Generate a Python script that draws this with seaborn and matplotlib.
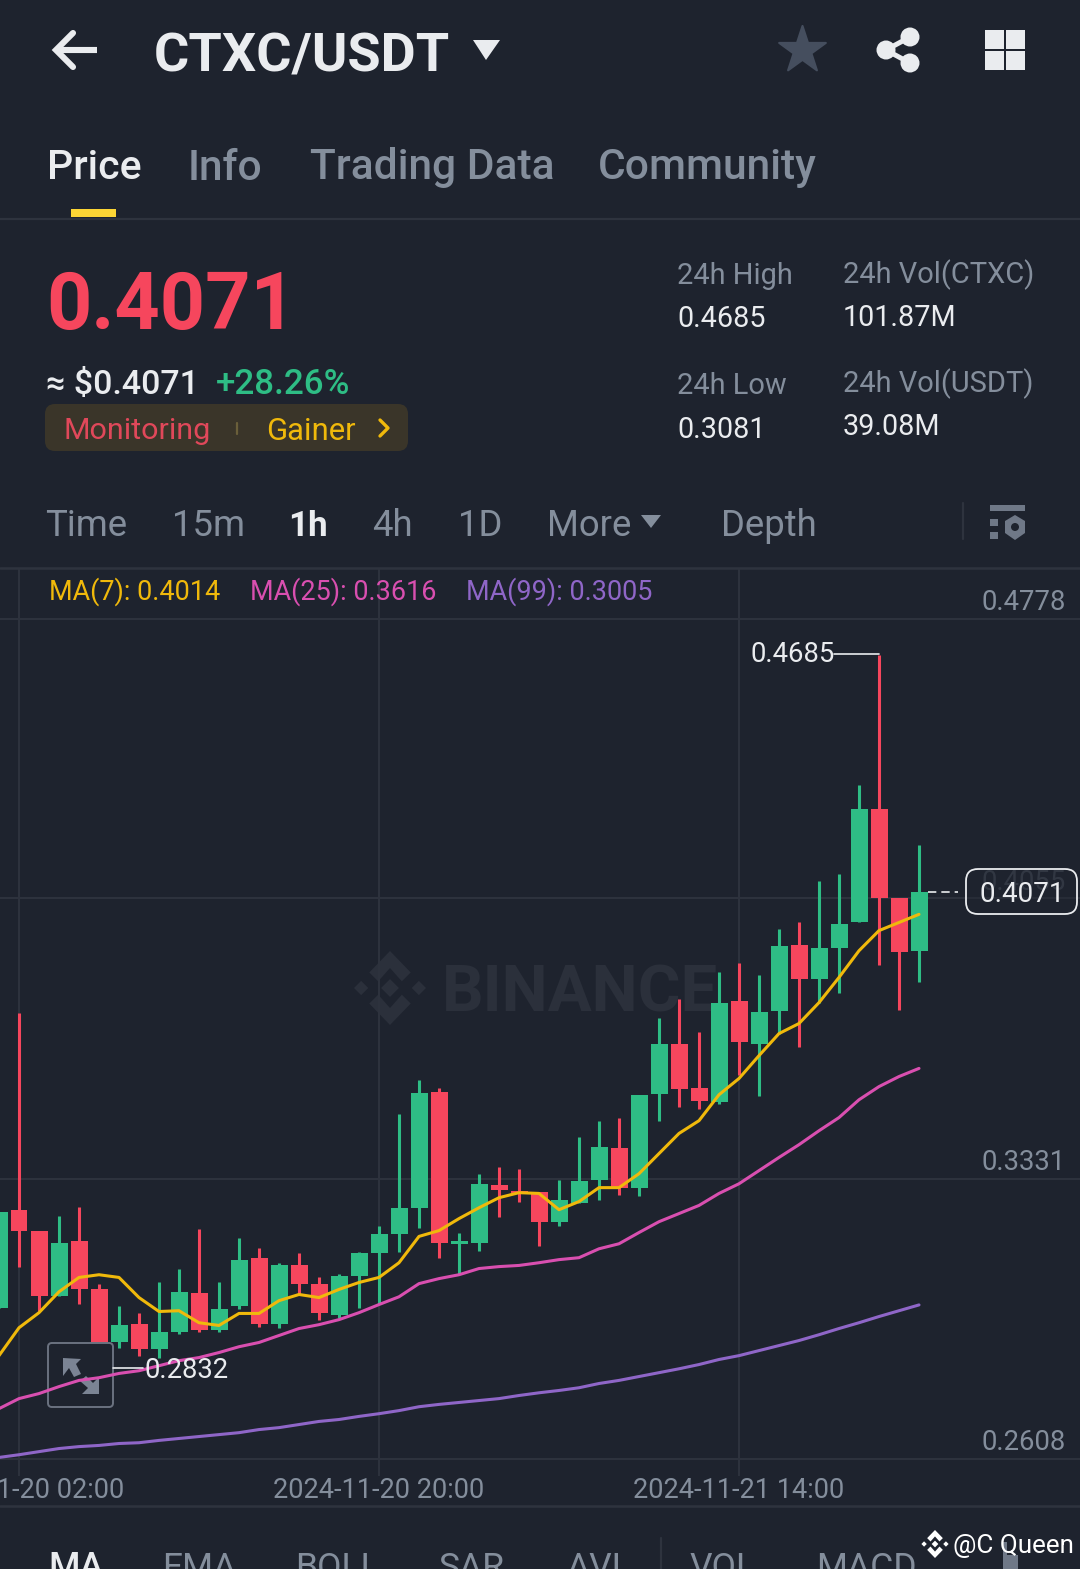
import matplotlib
matplotlib.use('Agg')
import matplotlib.pyplot as plt
import numpy as np
import pandas as pd
import seaborn as sns
from matplotlib.patches import FancyBboxPatch, Polygon, Rectangle, Circle

# candles (one per hour, left to right)
opens = [0.2998, 0.3249, 0.3195, 0.3029, 0.3169, 0.3045, 0.2908, 0.2957, 0.2890, 0.2934, 0.3037, 0.2941,
         0.3001, 0.3125, 0.2957, 0.3109, 0.3060, 0.2980, 0.3081, 0.3138, 0.3189, 0.3256, 0.3556, 0.3163,
         0.3166, 0.3316, 0.3300, 0.3298, 0.3218, 0.3269, 0.3329, 0.3411, 0.3308, 0.3551, 0.3680, 0.3566,
         0.3530, 0.3791, 0.3680, 0.3765, 0.3936, 0.3848, 0.3928, 0.3993, 0.4287, 0.4055, 0.3920]
closes = [0.3244, 0.3195, 0.3029, 0.3166, 0.3045, 0.2900, 0.2952, 0.2890, 0.2934, 0.3039, 0.2941, 0.2995,
          0.3122, 0.2957, 0.3109, 0.3060, 0.2983, 0.3081, 0.3138, 0.3187, 0.3256, 0.3553, 0.3166, 0.3171,
          0.3318, 0.3303, 0.3295, 0.3220, 0.3275, 0.3326, 0.3414, 0.3308, 0.3548, 0.3678, 0.3564, 0.3533,
          0.3786, 0.3685, 0.3763, 0.3931, 0.3848, 0.3926, 0.3990, 0.4285, 0.4055, 0.3918, 0.4071]
highs = [0.3244, 0.3758, 0.3197, 0.3236, 0.3259, 0.3060, 0.3001, 0.2985, 0.3063, 0.3099, 0.3200, 0.3065,
         0.3179, 0.3153, 0.3114, 0.3138, 0.3078, 0.3086, 0.3143, 0.3210, 0.3499, 0.3585, 0.3566, 0.3192,
         0.3342, 0.3362, 0.3357, 0.3298, 0.3329, 0.3440, 0.3481, 0.3489, 0.3548, 0.3747, 0.3796, 0.3711,
         0.3864, 0.3889, 0.3858, 0.3977, 0.3993, 0.4099, 0.4119, 0.4347, 0.4685, 0.4055, 0.4192]
lows = [0.2998, 0.3102, 0.2990, 0.3029, 0.3008, 0.2832, 0.2895, 0.2872, 0.2869, 0.2931, 0.2934, 0.2936,
        0.2995, 0.2949, 0.2946, 0.3034, 0.2967, 0.2972, 0.2998, 0.3008, 0.3143, 0.3205, 0.3125, 0.3086,
        0.3145, 0.3233, 0.3272, 0.3158, 0.3210, 0.3269, 0.3277, 0.3290, 0.3287, 0.3479, 0.3517, 0.3512,
        0.3525, 0.3600, 0.3546, 0.3706, 0.3672, 0.3786, 0.3812, 0.3993, 0.3882, 0.3768, 0.3838]

# moving averages
ma7 = [0.2874, 0.2946, 0.2985, 0.3039, 0.3076, 0.3083, 0.3076, 0.3024, 0.2988, 0.2990, 0.2959, 0.2952,
       0.2983, 0.2983, 0.3016, 0.3032, 0.3024, 0.3045, 0.3063, 0.3076, 0.3114, 0.3182, 0.3197, 0.3228,
       0.3256, 0.3282, 0.3295, 0.3293, 0.3251, 0.3272, 0.3308, 0.3308, 0.3344, 0.3396, 0.3448, 0.3481,
       0.3548, 0.3590, 0.3649, 0.3706, 0.3732, 0.3786, 0.3851, 0.3920, 0.3972, 0.3993, 0.4014]
ma25 = [0.2737, 0.2763, 0.2776, 0.2794, 0.2810, 0.2817, 0.2828, 0.2835, 0.2848, 0.2861, 0.2869, 0.2882,
        0.2897, 0.2908, 0.2926, 0.2944, 0.2954, 0.2967, 0.2985, 0.3006, 0.3026, 0.3060, 0.3073, 0.3083,
        0.3099, 0.3104, 0.3107, 0.3114, 0.3122, 0.3127, 0.3150, 0.3163, 0.3192, 0.3220, 0.3241, 0.3262,
        0.3293, 0.3318, 0.3352, 0.3386, 0.3419, 0.3455, 0.3489, 0.3535, 0.3569, 0.3595, 0.3616]
ma99 = [0.2611, 0.2618, 0.2626, 0.2634, 0.2639, 0.2642, 0.2647, 0.2649, 0.2655, 0.2660, 0.2665, 0.2670,
        0.2675, 0.2683, 0.2688, 0.2696, 0.2704, 0.2709, 0.2717, 0.2724, 0.2732, 0.2742, 0.2748, 0.2753,
        0.2758, 0.2763, 0.2771, 0.2778, 0.2784, 0.2791, 0.2802, 0.2810, 0.2820, 0.2830, 0.2840, 0.2851,
        0.2864, 0.2874, 0.2887, 0.2900, 0.2913, 0.2928, 0.2944, 0.2959, 0.2975, 0.2990, 0.3005]

y_ticks = [0.4778, 0.4055, 0.3331, 0.2608]
x_tick_pos = [1, 19, 37]
x_tick_labels = ['2024-11-20 02:00', '2024-11-20 20:00', '2024-11-21 14:00']

BG = '#1e232e'
GRID = '#2e333e'
GREY = '#848e9c'
WHITE = '#eaecef'
GREEN = '#2ebd85'
RED = '#f6465d'
YELLOW = '#f0b90b'
PINK = '#d94fb0'
PURPLE = '#8f66c8'

sns.set_theme(style='dark')
plt.rcParams['font.family'] = ['Roboto', 'DejaVu Sans']

fig = plt.figure(figsize=(10.8, 15.69), dpi=100, facecolor=BG)

# overlay in screen pixels for all the app chrome
ui = fig.add_axes([0, 0, 1, 1], zorder=2)
ui.set_xlim(0, 1080)
ui.set_ylim(1569, 0)
ui.axis('off')
ui.patch.set_alpha(0)

# price axes, pixel rows 568-1476
ax = fig.add_axes([0, (1569 - 1476) / 1569, 1, (1476 - 568) / 1569], zorder=1, facecolor=BG)
price_per_px = (y_ticks[0] - y_ticks[-1]) / (1458 - 618)
ax.set_xlim(0.05, 54.05)
ax.set_ylim(y_ticks[0] - (1476 - 618.6) * price_per_px, y_ticks[0] + 50.6 * price_per_px)
for s in ax.spines.values():
    s.set_visible(False)

ax.hlines(y_ticks, 0.05, 54.05, color=GRID, lw=1.4, zorder=1)
ax.vlines(x_tick_pos, *ax.get_ylim(), color=GRID, lw=1.4, zorder=1)
ax.set_yticks([])
ax.set_xticks(x_tick_pos, x_tick_labels)
ax.tick_params(axis='x', length=0, pad=1, labelsize=19.5, labelcolor=GREY)


def text(x, y, s, color=WHITE, px=30, **kw):
    kw.setdefault('va', 'center')
    return ui.text(x, y, s, color=color, fontsize=px * 0.72, **kw)


def binance_logo(a, cx, cy, r, color, zorder):
    # center diamond, two side diamonds, top and bottom chevrons
    d = r * 0.24
    for ox, oy, k in [(0, 0, 1.0), (-r * 0.78, 0, 0.8), (r * 0.78, 0, 0.8)]:
        a.add_patch(Polygon([(cx + ox - d * k, cy), (cx + ox, cy - d * k), (cx + ox + d * k, cy), (cx + ox, cy + d * k)],
                            color=color, zorder=zorder, transform=ui.transData, lw=0))
    w = r * 0.24
    for sgn in (-1, 1):
        a.add_patch(Polygon([(cx - r * 0.56, cy + sgn * r * 0.42), (cx, cy + sgn * r), (cx + r * 0.56, cy + sgn * r * 0.42),
                             (cx + r * 0.56 - w, cy + sgn * r * 0.42 - sgn * w), (cx, cy + sgn * r * 0.54),
                             (cx - r * 0.56 + w, cy + sgn * r * 0.42 - sgn * w)],
                            color=color, zorder=zorder, transform=ui.transData, lw=0))


# watermark behind the candles
binance_logo(ax, 390, 988, 37, '#2b303b', 0.5)
ax.text(442, 994, 'BINANCE', transform=ui.transData, color='#2b303b', fontsize=47, fontweight='bold',
        va='center', zorder=0.5)

# candles
df = pd.DataFrame({'open': opens, 'close': closes, 'high': highs, 'low': lows})
df['idx'] = np.arange(len(df))
df['color'] = np.where(df['close'] >= df['open'], GREEN, RED)
ax.vlines(df['idx'], df['low'], df['high'], colors=df['color'], lw=2.2, zorder=2)
ax.bar(df['idx'], (df['close'] - df['open']).abs(), bottom=df[['open', 'close']].min(axis=1),
       width=0.85, color=df['color'], linewidth=0, zorder=2)

# expand button sits over the candles but under the MA lines
ax.add_patch(FancyBboxPatch((48, 1343), 65, 64, boxstyle='round,pad=0,rounding_size=4', fc=BG, ec='#6b7280', lw=1.4,
                            transform=ui.transData, zorder=2.5))
ax.add_patch(Polygon([(63, 1358), (81, 1359), (76, 1364), (81, 1374), (74, 1377), (69, 1368), (63, 1376)],
                     color='#7b8494', lw=0, transform=ui.transData, zorder=2.6))
ax.add_patch(Polygon([(99, 1394), (82, 1394), (88, 1388), (80, 1381), (86, 1376), (93, 1383), (99, 1377)],
                     color='#7b8494', lw=0, transform=ui.transData, zorder=2.6))

# moving average lines
for values, colour in [(ma99, PURPLE), (ma25, PINK), (ma7, YELLOW)]:
    sns.lineplot(x=df['idx'], y=values, ax=ax, color=colour, linewidth=2.2, legend=False, zorder=3)
ax.set_xlabel('')
ax.set_ylabel('')

# axis price labels sit just above their grid lines
for v in y_ticks:
    c = '#3c424e' if v == 0.4055 else GREY
    ax.annotate(f'{v:.4f}', xy=(1, v), xycoords=ax.get_yaxis_transform(), xytext=(-10.2, 11.5),
                textcoords='offset points', ha='right', va='center', color=c, fontsize=19.8, zorder=1.5)

# header
ui.plot([97, 56], [50, 50], color=WHITE, lw=4.4, solid_capstyle='butt')
ui.plot([73, 56, 73], [33, 50, 67], color=WHITE, lw=4.4, solid_joinstyle='miter')
text(154, 57, 'CTXC/USDT', px=54, fontweight='bold')
ui.add_patch(Polygon([(473, 40), (500, 40), (486, 60)], color=WHITE, lw=0))
ui.scatter([802], [50], marker='*', s=1250, color='#454e5e', linewidths=1.5, edgecolors='#454e5e')
ui.plot([910, 886, 910], [37, 50, 63], color=WHITE, lw=3.6)
for cx, cy in [(910, 37), (886, 50), (910, 63)]:
    ui.add_patch(Circle((cx, cy), 9.5, color=WHITE, lw=0))
for gx in (985, 1006):
    for gy in (30, 51):
        ui.add_patch(Rectangle((gx, gy), 19, 19, color=WHITE, lw=0))

# tabs
text(47, 168, 'Price', px=41, fontweight='medium')
for x, s in [(188, 'Info'), (310, 'Trading Data'), (598, 'Community')]:
    text(x, 168, s, color=GREY, px=42.5, fontweight='medium')
ui.add_patch(Rectangle((71, 209), 45, 8, color='#fcd535', lw=0))
ui.plot([0, 1080], [218.5, 218.5], color=GRID, lw=1.6)

# price block
text(46, 308, '0.4071', color=RED, px=79, fontweight='bold')
text(46, 385, '≈ $0.4071', px=34, fontweight='medium')
text(216, 385, '+28.26%', color=GREEN, px=35, fontweight='medium')
ui.add_patch(FancyBboxPatch((45, 404), 363, 47, boxstyle='round,pad=0,rounding_size=10', fc='#3a3529', ec='none'))
text(64, 431, 'Monitoring', color='#e0485a', px=30.5)
ui.plot([237, 237], [423, 434], color='#6a5f3a', lw=1.6)
text(266, 431, 'Gainer', color=YELLOW, px=31)
ui.plot([380, 388, 380], [420, 428, 436], color=YELLOW, lw=2.4)

# 24h stats
for x, y, s in [(677, 276, '24h High'), (843, 275, '24h Vol(CTXC)'), (677, 386, '24h Low'), (843, 384, '24h Vol(USDT)')]:
    text(x, y, s, color=GREY, px=29)
for x, y, s in [(677, 319, '0.4685'), (843, 318, '101.87M'), (677, 430, '0.3081'), (843, 427, '39.08M')]:
    text(x, y, s, px=28.7)

# interval row
for x, s in [(45, 'Time'), (172, '15m'), (372, '4h'), (458, '1D'), (547, 'More'), (721, 'Depth')]:
    text(x, 526, s, color=GREY, px=36.5)
text(288, 526, '1h', px=35, fontweight='bold')
ui.add_patch(Polygon([(641, 515), (661, 515), (651, 528)], color=GREY, lw=0))
ui.plot([963, 963], [503, 539], color=GRID, lw=1.6)
ICON = '#6f7887'
ui.add_patch(Rectangle((990, 505), 35, 6, color=ICON, lw=0))
ui.add_patch(Rectangle((990, 519), 8, 7, color=ICON, lw=0))
ui.add_patch(Rectangle((990, 532), 8, 7, color=ICON, lw=0))
ui.add_patch(Polygon([(1015, 515), (1025, 521), (1025, 533), (1015, 540), (1005, 533), (1005, 521)], color=ICON, lw=0))
ui.add_patch(Circle((1015, 527), 4, color=BG, lw=0))
ui.plot([0, 1080], [567.5, 567.5], color=GRID, lw=1.8)

# MA legend
text(49, 592, 'MA(7): 0.4014', color=YELLOW, px=27)
text(250, 592, 'MA(25): 0.3616', color=PINK, px=27)
text(466, 592, 'MA(99): 0.3005', color=PURPLE, px=27)

# high / low callouts and last price tag
text(751, 655, '0.4685', px=27.5)
ui.plot([834, 879], [653.5, 653.5], color=WHITE, lw=1.2)
text(144, 1371, '0.2832', px=27.5)
ui.plot([113, 143], [1368, 1368], color=WHITE, lw=1.2)
ui.plot([928, 958], [892, 892], color=WHITE, lw=1.2, dashes=(5, 3))
ui.add_patch(FancyBboxPatch((966, 869), 111, 45, boxstyle='round,pad=0,rounding_size=12', fc=BG, alpha=0.35, ec='none'))
ui.add_patch(FancyBboxPatch((966, 869), 111, 45, boxstyle='round,pad=0,rounding_size=12', fc='none', ec=WHITE, lw=1.3))
text(1022, 895, '0.4071', px=27.8, ha='center')

# bottom indicator tabs, cut by the screen edge
ui.plot([0, 1080], [1506, 1506], color=GRID, lw=1.8)
text(48, 1569, 'MA', px=36, fontweight='medium')
for x, s in [(162, 'EMA'), (295, 'BOLL'), (439, 'SAR'), (567, 'AVL'), (690, 'VOL'), (816, 'MACD')]:
    text(x, 1569, s, color=GREY, px=35.5)
ui.plot([661, 661], [1538, 1569], color=GRID, lw=1.6)
ui.add_patch(Polygon([(1003, 1569), (1003, 1542), (1007, 1542), (1007, 1555), (1018, 1555), (1018, 1569)], color=ICON, lw=0))

# reposter watermark
binance_logo(ui, 935, 1544, 14, 'white', 5)
text(953, 1546, '@C Queen', color='white', px=26, zorder=5)

fig.savefig('out.png', dpi=100, facecolor=BG)
